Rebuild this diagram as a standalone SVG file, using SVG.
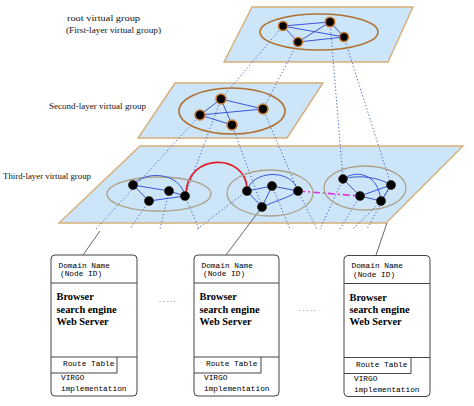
<svg xmlns="http://www.w3.org/2000/svg" width="474" height="406" viewBox="0 0 474 406">
<style>
.plane{fill:#cce5f8;stroke:#d8ae78;stroke-width:1.4}
.ell1{fill:none;stroke:#b07030;stroke-width:1.6}
.ell3{fill:none;stroke:#aca28a;stroke-width:1.3}
.edge{fill:none;stroke:#3a55d8;stroke-width:1}
.dot{fill:none;stroke:#4a5cc0;stroke-width:1;stroke-dasharray:1.2 2.2}
.nodeA{fill:#000;stroke:#c87a30;stroke-width:1.6}
.nodeB{fill:#000;stroke:#3a2a10;stroke-width:0.6}
.lbl{font-family:"Liberation Serif",serif;font-size:9px;fill:#111}
.mono{font-family:"Liberation Mono",monospace;font-size:7.8px;fill:#000}
.bold{font-family:"Liberation Serif",serif;font-size:10.4px;font-weight:bold;fill:#000}
.box{fill:#fff;stroke:#444;stroke-width:1}
.ln{stroke:#444;stroke-width:1;fill:none}
.conn{stroke:#555;stroke-width:0.9;fill:none}
</style>

<g id="labels">
<text class="lbl" x="67" y="20.5" textLength="73" lengthAdjust="spacingAndGlyphs">root virtual group</text>
<text class="lbl" x="66" y="32.5" textLength="95" lengthAdjust="spacingAndGlyphs">(First-layer virtual group)</text>
<text class="lbl" x="49" y="108.5" textLength="97" lengthAdjust="spacingAndGlyphs">Second-layer virtual group</text>
<text class="lbl" x="3" y="178.5" textLength="88" lengthAdjust="spacingAndGlyphs">Third-layer virtual group</text>
</g>

<g id="planes">
<polygon class="plane" points="140,146 463,146 386,223 59,223"/>
<polygon class="plane" points="175,83 323,83 287,138 138,138"/>
<polygon class="plane" points="252,7 413,7 388,62 224,62"/>
</g>

<g id="connectors">
<line class="dot" x1="283" y1="26" x2="221" y2="99"/>
<line class="dot" x1="298" y1="42" x2="263" y2="109"/>
<line class="dot" x1="330" y1="22" x2="343" y2="179"/>
<line class="dot" x1="344" y1="37" x2="391" y2="185"/>
<line class="dot" x1="200" y1="115" x2="96" y2="229"/>
<line class="dot" x1="221" y1="99" x2="185" y2="196"/>
<line class="dot" x1="232" y1="125" x2="262" y2="207"/>
<line class="dot" x1="263" y1="109" x2="298" y2="191"/>
<line class="dot" x1="149" y1="201" x2="130" y2="229"/>
<line class="dot" x1="169" y1="191" x2="160" y2="229"/>
<line class="dot" x1="185" y1="196" x2="199" y2="229"/>
<line class="dot" x1="247" y1="191" x2="197" y2="229"/>
<line class="dot" x1="272" y1="186" x2="290" y2="229"/>
<line class="dot" x1="298" y1="191" x2="317" y2="229"/>
<line class="dot" x1="343" y1="179" x2="320" y2="229"/>
<line class="dot" x1="360" y1="196" x2="340" y2="229"/>
<line class="dot" x1="381" y1="201" x2="353" y2="229"/>
<line class="dot" x1="391" y1="185" x2="367" y2="229"/>
<path d="M186,193 C188,153 245,153 247,188" fill="none" stroke="#e0202a" stroke-width="1.8"/>
<line x1="298" y1="191" x2="360" y2="196" stroke="#e030d8" stroke-width="1.6" stroke-dasharray="7 3 2 3"/>
<line class="conn" x1="100" y1="231" x2="83" y2="255"/>
<line class="conn" x1="262" y1="207" x2="226" y2="255"/>
<line class="conn" x1="387" y1="223" x2="376" y2="255"/>
</g>

<g id="root-group">
<ellipse class="ell1" cx="319" cy="32" rx="59" ry="18"/>
<line class="edge" x1="283" y1="26" x2="330" y2="22"/>
<line class="edge" x1="283" y1="26" x2="344" y2="37"/>
<line class="edge" x1="283" y1="26" x2="298" y2="42"/>
<line class="edge" x1="330" y1="22" x2="298" y2="42"/>
<line class="edge" x1="298" y1="42" x2="344" y2="37"/>
<line class="edge" x1="330" y1="22" x2="344" y2="37"/>
<circle class="nodeA" cx="283" cy="26" r="4.5"/>
<circle class="nodeA" cx="330" cy="22" r="4.8"/>
<circle class="nodeA" cx="344" cy="37" r="4.5"/>
<circle class="nodeA" cx="298" cy="42" r="4.5"/>
</g>

<g id="second-group">
<ellipse class="ell1" cx="232" cy="111" rx="53" ry="23"/>
<line class="edge" x1="221" y1="99" x2="263" y2="109"/>
<line class="edge" x1="200" y1="115" x2="263" y2="109"/>
<line class="edge" x1="200" y1="115" x2="221" y2="99"/>
<line class="edge" x1="221" y1="99" x2="232" y2="125"/>
<line class="edge" x1="200" y1="115" x2="232" y2="125"/>
<circle class="nodeA" cx="221" cy="99" r="5"/>
<circle class="nodeA" cx="263" cy="109" r="5"/>
<circle class="nodeA" cx="200" cy="115" r="5"/>
<circle class="nodeA" cx="232" cy="125" r="5"/>
</g>

<g id="third-group-1">
<ellipse class="ell3" cx="159" cy="194" rx="52" ry="17"/>
<path class="edge" d="M133,185 C145,170 180,172 185,196"/>
<line class="edge" x1="133" y1="185" x2="169" y2="191"/>
<line class="edge" x1="133" y1="185" x2="149" y2="201"/>
<line class="edge" x1="169" y1="191" x2="185" y2="196"/>
<line class="edge" x1="149" y1="201" x2="185" y2="196"/>
<circle class="nodeB" cx="133" cy="185" r="4.6"/>
<circle class="nodeB" cx="169" cy="191" r="4.6"/>
<circle class="nodeB" cx="149" cy="201" r="4.6"/>
<circle class="nodeB" cx="185" cy="196" r="4.6"/>
</g>

<g id="third-group-2">
<ellipse class="ell3" cx="270" cy="193" rx="43" ry="23"/>
<path class="edge" d="M247,191 C252,170 292,168 298,191"/>
<line class="edge" x1="247" y1="191" x2="272" y2="186"/>
<line class="edge" x1="272" y1="186" x2="298" y2="191"/>
<line class="edge" x1="247" y1="191" x2="262" y2="207"/>
<line class="edge" x1="272" y1="186" x2="262" y2="207"/>
<path class="edge" d="M262,207 C278,200 290,197 298,191"/>
<circle class="nodeB" cx="247" cy="191" r="4.6"/>
<circle class="nodeB" cx="272" cy="186" r="4.6"/>
<circle class="nodeB" cx="298" cy="191" r="4.6"/>
<circle class="nodeB" cx="262" cy="207" r="4.6"/>
</g>

<g id="third-group-3">
<ellipse class="ell3" cx="365" cy="188" rx="41" ry="22"/>
<path class="edge" d="M343,179 C355,170 378,172 381,201"/>
<path class="edge" d="M343,179 C360,174 380,178 391,185"/>
<line class="edge" x1="343" y1="179" x2="360" y2="196"/>
<line class="edge" x1="360" y1="196" x2="391" y2="185"/>
<line class="edge" x1="360" y1="196" x2="381" y2="201"/>
<line class="edge" x1="381" y1="201" x2="391" y2="185"/>
<circle class="nodeB" cx="343" cy="179" r="4.4"/>
<circle class="nodeB" cx="391" cy="185" r="4.6"/>
<circle class="nodeB" cx="360" cy="196" r="4.6"/>
<circle class="nodeB" cx="381" cy="201" r="4.6"/>
</g>

<g id="box-1">
<rect class="box" x="51" y="255" width="86" height="141" rx="4"/>
<line class="ln" x1="51" y1="283" x2="137" y2="283"/>
<line class="ln" x1="51" y1="357" x2="137" y2="357"/>
<polyline class="ln" points="117,357 117,373 51,373"/>
<text class="mono" x="58.5" y="267.5">Domain Name</text>
<text class="mono" x="60" y="276">(Node ID)</text>
<text class="bold" x="56.5" y="300">Browser</text>
<text class="bold" x="56.5" y="312.5">search engine</text>
<text class="bold" x="56.5" y="324.5">Web Server</text>
<text class="mono" x="63" y="366">Route Table</text>
<text class="mono" x="61" y="380">VIRGO</text>
<text class="mono" x="61" y="391">implementation</text>
</g>

<g id="box-2">
<rect class="box" x="194" y="255" width="85" height="141" rx="4"/>
<line class="ln" x1="194" y1="283" x2="279" y2="283"/>
<line class="ln" x1="194" y1="357" x2="279" y2="357"/>
<polyline class="ln" points="261,357 261,373 194,373"/>
<text class="mono" x="201.5" y="267.5">Domain Name</text>
<text class="mono" x="203" y="276">(Node ID)</text>
<text class="bold" x="199.5" y="300">Browser</text>
<text class="bold" x="199.5" y="312.5">search engine</text>
<text class="bold" x="199.5" y="324.5">Web Server</text>
<text class="mono" x="206" y="366">Route Table</text>
<text class="mono" x="204" y="380">VIRGO</text>
<text class="mono" x="204" y="391">implementation</text>
</g>

<g id="box-3">
<rect class="box" x="344" y="255.5" width="86" height="141" rx="4"/>
<line class="ln" x1="344" y1="283.5" x2="430" y2="283.5"/>
<line class="ln" x1="344" y1="357.5" x2="430" y2="357.5"/>
<polyline class="ln" points="411,357.5 411,373.5 344,373.5"/>
<text class="mono" x="351.5" y="268">Domain Name</text>
<text class="mono" x="353" y="276.5">(Node ID)</text>
<text class="bold" x="349.5" y="300.5">Browser</text>
<text class="bold" x="349.5" y="313">search engine</text>
<text class="bold" x="349.5" y="325">Web Server</text>
<text class="mono" x="356" y="366.5">Route Table</text>
<text class="mono" x="354" y="380.5">VIRGO</text>
<text class="mono" x="354" y="391.5">implementation</text>
</g>

<g id="ellipsis">
<text x="158" y="302" font-family="Liberation Mono, monospace" font-size="6.2" fill="#555">.....</text>
<text x="298" y="311" font-family="Liberation Mono, monospace" font-size="6.2" fill="#555">.....</text>
</g>
</svg>
